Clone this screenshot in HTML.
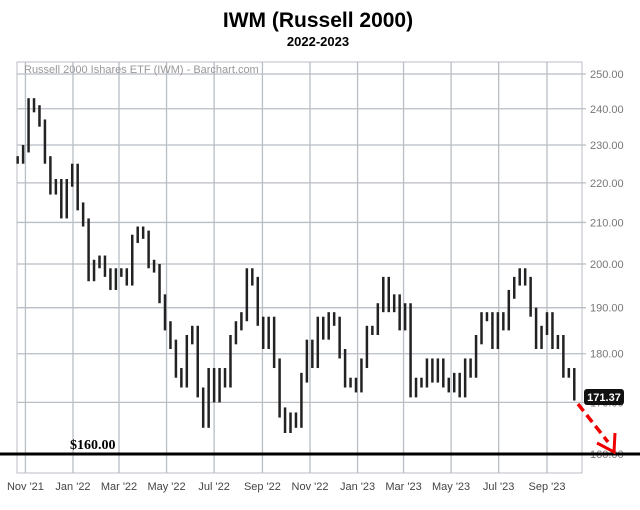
<!DOCTYPE html>
<html><head><meta charset="utf-8"><style>
body{margin:0;background:#fff;width:640px;height:505px;overflow:hidden;font-family:"Liberation Sans",sans-serif}
</style></head><body>
<svg width="640" height="505" xmlns="http://www.w3.org/2000/svg">
<text x="318" y="27" text-anchor="middle" font-size="21" font-weight="bold">IWM (Russell 2000)</text>
<text x="318" y="46" text-anchor="middle" font-size="13" font-weight="bold">2022-2023</text>
<g id="grid"></g>
<text x="24" y="73" font-size="11" fill="#999">Russell 2000 Ishares ETF (IWM) - Barchart.com</text>
<g id="bars"></g>
<g id="ylab"></g>
<g id="xlab"></g>
<line x1="0" y1="454" x2="640" y2="454" stroke="#000" stroke-width="3"/>
<text x="70" y="449" font-size="14" font-weight="bold" font-family="Liberation Serif,serif">$160.00</text>
<g>
<line x1="578" y1="404" x2="608" y2="442" stroke="#e00" stroke-width="3.5" stroke-dasharray="9,5"/>
<path d="M597,443 L614,452 L615,433" fill="none" stroke="#e00" stroke-width="3"/>
</g>
<g>
<rect x="584" y="389" width="40" height="16" rx="3" fill="#111"/>
<text x="604" y="401" text-anchor="middle" font-size="11" font-weight="bold" fill="#fff">171.37</text>
</g>
</svg>
<script>
const yTicks=[250,240,230,220,210,200,190,180,170,160];
const xTickLabels=["Nov '21","Jan '22","Mar '22","May '22","Jul '22","Sep '22","Nov '22","Jan '23","Mar '23","May '23","Jul '23","Sep '23"];
const xTickDates=["2021-11-01","2022-01-01","2022-03-01","2022-05-01","2022-07-01","2022-09-01","2022-11-01","2023-01-01","2023-03-01","2023-05-01","2023-07-01","2023-09-01"];
const startDate="2021-10-22";
const weeklyCloses=[226,229,242,240,236,226,218,220,212,220,224,214,210,197,200,201,198,195,198,198,196,206,208,207,200,199,192,186,182,176,174,183,185,172,166,176,171,176,174,183,186,188,198,196,187,182,187,178,168,165,167,166,175,182,178,187,184,188,187,180,174,174,173,178,185,185,190,196,190,192,186,190,172,174,174,178,175,178,174,173,175,172,178,176,183,188,188,182,188,186,193,196,198,196,189,182,185,188,182,183,176,176,171.37];
const NS="http://www.w3.org/2000/svg";
const pLeft=17,pRight=582,pTop=62,pBottom=473;
function yS(v){return 74+Math.log(250/v)*851.5;}
const d0=Date.parse("2022-01-01");
function xS(ms){return 73+(ms-d0)/86400000*0.7796;}
function mk(t,a,p){const e=document.createElementNS(NS,t);for(const k in a)e.setAttribute(k,a[k]);p.appendChild(e);return e;}
const grid=document.getElementById('grid');
mk('rect',{x:pLeft,y:pTop,width:pRight-pLeft,height:pBottom-pTop,fill:'none',stroke:'#b8bec4'},grid);
yTicks.forEach(v=>{
  const l=mk('line',{x1:pLeft,x2:pRight+4,y1:yS(v),y2:yS(v),stroke:'#b8bec4','stroke-width':1.3},grid);
  
  
  const t=mk('text',{x:590,y:yS(v)+4,'font-size':11,fill:'#777'},document.getElementById('ylab'));
  t.textContent=v.toFixed(2);
  
  
});
xTickDates.forEach((d,i)=>{
  const x=xS(Date.parse(d));
  const l=mk('line',{x1:x,x2:x,y1:pTop,y2:pBottom,stroke:'#b8bec4','stroke-width':1.3},grid);
  
  
  const t=mk('text',{x:x,y:490,'font-size':11,fill:'#444','text-anchor':'middle'},document.getElementById('xlab'));
  t.textContent=xTickLabels[i];
  
  
});
const bars=document.getElementById('bars');
const s0=Date.parse(startDate);
weeklyCloses.forEach((c,i)=>{
  const o=i>0?weeklyCloses[i-1]:c;
  const hi=Math.max(o,c)+1,lo=Math.min(o,c)-1;
  const x=xS(s0+i*7*86400000);
  const b=mk('line',{x1:x,x2:x,y1:yS(hi),y2:yS(lo),stroke:'#222','stroke-width':2.5},bars);
  
  
});
</script>
</body></html>
